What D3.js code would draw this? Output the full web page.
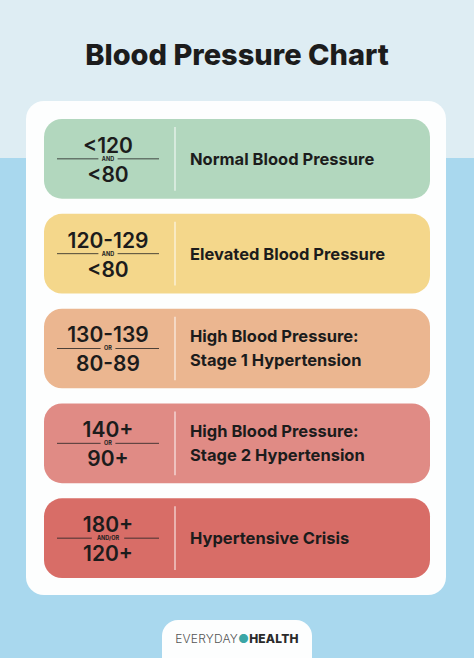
<!DOCTYPE html>
<html><head><meta charset="utf-8">
<script src="https://cdn.jsdelivr.net/npm/d3@7"></script>
<style>body{margin:0;}svg{display:block;}</style>
</head><body><div id="canvas"></div>
<script>
const systolic = ["<120", "120-129", "130-139", "140+", "180+"];
const joiners = ["AND", "AND", "OR", "OR", "AND/OR"];
const diastolic = ["<80", "<80", "80-89", "90+", "120+"];
const categories = [["Normal Blood Pressure"], ["Elevated Blood Pressure"],
    ["High Blood Pressure:", "Stage 1 Hypertension"],
    ["High Blood Pressure:", "Stage 2 Hypertension"], ["Hypertensive Crisis"]];
const colors = ["#b2d7be", "#f4d78b", "#ebb690", "#e08b85", "#d86d67"];

const width = 474, height = 658;
const font = "Inter, 'Open Sans', sans-serif";

const svg = d3.select("#canvas").append("svg")
    .attr("width", width).attr("height", height)
    .style("background", "#a9d8ee");

// pale top band
svg.append("rect").attr("x", -20).attr("y", -20).attr("width", width + 40).attr("height", 178)
    .attr("rx", 16).attr("fill", "#deedf3");

svg.append("text").attr("x", width / 2).attr("y", 65)
    .attr("text-anchor", "middle").attr("font-family", font).attr("font-weight", 800)
    .attr("font-size", 29).attr("fill", "#1c1c1c").text("Blood Pressure Chart");

// white card
svg.append("rect").attr("x", 26).attr("y", 101).attr("width", 420).attr("height", 494)
    .attr("rx", 18).attr("fill", "#fdfefe");

const y = d3.scaleBand().domain(d3.range(systolic.length)).range([119, 578]).paddingInner(0.16);

const rows = svg.selectAll("g.row").data(systolic).join("g")
    .attr("class", "row")
    .attr("transform", (d, i) => `translate(0,${y(i)})`);

const h = y.bandwidth();
rows.append("rect").attr("x", 44).attr("width", 386).attr("height", h)
    .attr("rx", 18).attr("fill", (d, i) => colors[i]);
rows.append("line").attr("x1", 175).attr("x2", 175).attr("y1", 8).attr("y2", h - 8)
    .attr("stroke", "#fff").attr("stroke-opacity", 0.8).attr("stroke-width", 1.2);

const cx = 108;
rows.append("line").attr("x1", 57).attr("x2", 159).attr("y1", h / 2).attr("y2", h / 2)
    .attr("stroke", "#222").attr("stroke-width", 0.8);
rows.append("rect").attr("x", (d, i) => cx - joiners[i].length * 2.2 - 3).attr("y", h / 2 - 4)
    .attr("width", (d, i) => joiners[i].length * 4.4 + 6).attr("height", 8)
    .attr("fill", (d, i) => colors[i]);
rows.append("text").attr("x", cx).attr("y", h / 2 + 2).attr("text-anchor", "middle")
    .attr("font-family", font).attr("font-size", 5.5).attr("font-weight", 700).attr("fill", "#222")
    .text((d, i) => joiners[i]);
rows.append("text").attr("x", cx).attr("y", h / 2 - 6).attr("text-anchor", "middle")
    .attr("font-family", font).attr("font-size", 21).attr("font-weight", 600).attr("fill", "#1c1c1c")
    .text(d => d);
rows.append("text").attr("x", cx).attr("y", h / 2 + 23).attr("text-anchor", "middle")
    .attr("font-family", font).attr("font-size", 21).attr("font-weight", 600).attr("fill", "#1c1c1c")
    .text((d, i) => diastolic[i]);

rows.each(function(d, i) {
    const lines = categories[i];
    const g = d3.select(this);
    lines.forEach((t, j) => {
        g.append("text").attr("x", 190)
            .attr("y", h / 2 + 6 + (j - (lines.length - 1) / 2) * 24)
            .attr("font-family", font).attr("font-size", 16.5).attr("font-weight", 700)
            .attr("fill", "#1c1c1c").text(t);
    });
});

// logo tab
svg.append("rect").attr("x", 162).attr("y", 620).attr("width", 150).attr("height", 60)
    .attr("rx", 16).attr("fill", "#fdfefe");
const logo = svg.append("text").attr("x", 237).attr("y", 643).attr("text-anchor", "middle")
    .attr("font-family", font).attr("font-size", 12).attr("letter-spacing", 0.2);
logo.append("tspan").attr("fill", "#555").attr("font-weight", 300).text("EVERYDAY");
logo.append("tspan").attr("fill", "#3aa6a6").text("\u25CF");
logo.append("tspan").attr("fill", "#2a2a2a").attr("font-weight", 800).text("HEALTH");
</script>
</body></html>
